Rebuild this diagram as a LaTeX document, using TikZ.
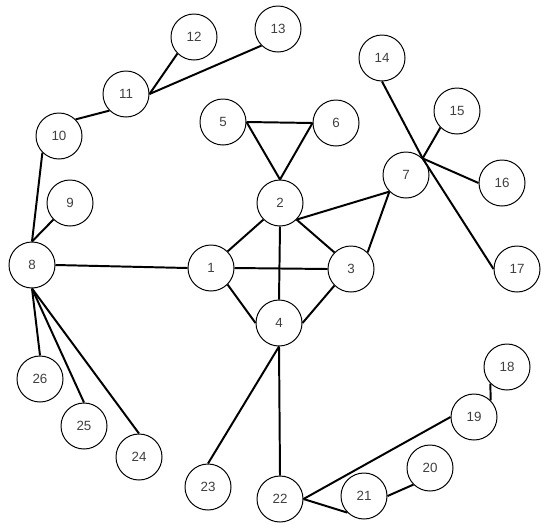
\documentclass[tikz,border=0pt]{standalone}
\usepackage{fontspec}
\setmainfont{Liberation Sans}

\begin{document}
\begin{tikzpicture}[
    x=0.025cm, y=-0.025cm,
    vertex/.style={draw, circle, minimum size=1.15cm, inner sep=0pt, line width=0.7pt, fill=white, text=black!75, font=\fontsize{9.5}{11}\selectfont},
    edge/.style={-, line width=1.4pt}
]
    \useasboundingbox (0,0) rectangle (550,527);

    % Core
    \node (v1) [vertex] at (211,268) {1};
    \node (v2) [vertex] at (280,203) {2};
    \node (v3) [vertex] at (351,269) {3};
    \node (v4) [vertex] at (279,323) {4};
    \node (v5) [vertex] at (223,122) {5};
    \node (v6) [vertex] at (336,123) {6};
    \node (v7) [vertex] at (406,175) {7};
    \node (v8) [vertex] at (32,265) {8};

    % Left branch
    \node (v9) [vertex] at (70,203) {9};
    \node (v10) [vertex] at (59,136) {10};
    \node (v11) [vertex] at (126,94) {11};
    \node (v12) [vertex] at (194,37) {12};
    \node (v13) [vertex] at (278,29) {13};
    \node (v24) [vertex] at (139,457) {24};
    \node (v25) [vertex] at (84,426) {25};
    \node (v26) [vertex] at (40,379) {26};

    % Right branch
    \node (v14) [vertex] at (382,58) {14};
    \node (v15) [vertex] at (457,111) {15};
    \node (v16) [vertex] at (502,183) {16};
    \node (v17) [vertex] at (517,269) {17};

    % Bottom branch
    \node (v18) [vertex] at (507,367) {18};
    \node (v19) [vertex] at (474,417) {19};
    \node (v20) [vertex] at (430,468) {20};
    \node (v21) [vertex] at (364,496) {21};
    \node (v22) [vertex] at (280,499) {22};
    \node (v23) [vertex] at (208,487) {23};

    % Core connections
    \draw[edge] (v5.east) -- (v6.west);
    \draw[edge] (v5.east) -- (v2.north);
    \draw[edge] (v6.west) -- (v2.north);
    \draw[edge] (v2.south west) -- (v1.north east);
    \draw[edge] (v2.south east) -- (v3.north west);
    \draw[edge] (v2.south) -- (v4.north);
    \draw[edge] (v2.south east) -- (v7.south west);
    \draw[edge] (v3.north east) -- (v7.south west);
    \draw[edge] (v1.east) -- (v3.west);
    \draw[edge] (v1.south east) -- (v4.west);
    \draw[edge] (v3.south west) -- (v4.east);
    \draw[edge] (v8.east) -- (v1.west);

    % Node 8 connections
    \draw[edge] (v8.north) -- (v9.south west);
    \draw[edge] (v8.north) -- (v10.south west);
    \draw[edge] (v8.south) -- (v26.north);
    \draw[edge] (v8.south) -- (v25.north);
    \draw[edge] (v8.south) -- (v24.north);
    \draw[edge] (v10.north east) -- (v11.south west);
    \draw[edge] (v11.east) -- (v12.south west);
    \draw[edge] (v11.east) -- (v13.south west);

    % Node 7 connections
    \draw[edge] (v7.north east) -- (v14.south);
    \draw[edge] (v7.north east) -- (v15.south west);
    \draw[edge] (v7.north east) -- (v16.west);
    \draw[edge] (v7.north east) -- (v17.west);

    % Node 4 connections
    \draw[edge] (v4.south) -- (v22.north);
    \draw[edge] (v4.south) -- (v23.north);
    \draw[edge] (v22.east) -- (v19.west);
    \draw[edge] (v22.east) -- (v21.south west);
    \draw[edge] (v21.east) -- (v20.south west);
    \draw[edge] (v19.north east) -- (v18.south west);
\end{tikzpicture}
\end{document}
